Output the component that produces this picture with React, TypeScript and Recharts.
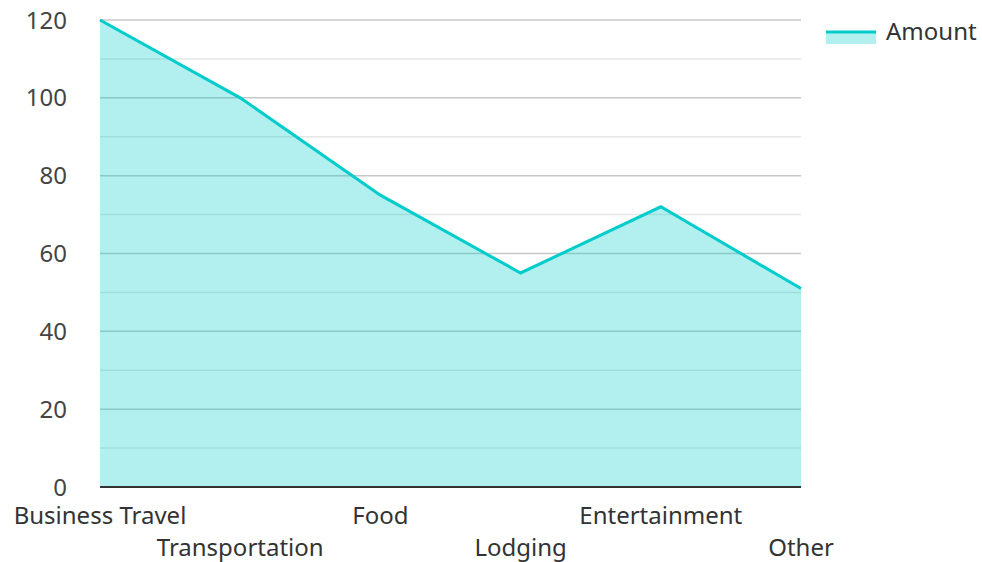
import React from 'react';
import { AreaChart, Area, XAxis, YAxis, CartesianGrid } from 'recharts';

const categories = ['Business Travel', 'Transportation', 'Food', 'Lodging', 'Entertainment', 'Other'];
const amounts = [120, 100, 75, 55, 72, 51];
const yTicks = [0, 20, 40, 60, 80, 100, 120];
const minorTicks = [10, 30, 50, 70, 90, 110];

const data = categories.map((name, i) => ({ name, amount: amounts[i] }));

const FONT = '"Noto Sans", sans-serif';
const LINE = '#00cccc';

// alternate the category labels on two rows so they don't collide
const XTick = (props: any) => {
  const { x, y, payload, index } = props;
  const dy = index % 2 === 1 ? 61 : 29;
  return (
    <text x={x} y={y} dy={dy} textAnchor="middle" fill="#333" fontSize={24} fontFamily={FONT}>
      {payload.value}
    </text>
  );
};

const App: React.FC = () => {
  return (
    <div style={{ position: 'absolute', left: 0, top: 0, width: 982, height: 562, background: '#fff' }}>
      <AreaChart width={982} height={562} data={data} margin={{ top: 20, right: 181, bottom: 0, left: 0 }}>
        <CartesianGrid vertical={false} horizontalValues={minorTicks} stroke="#e6e6e6" strokeWidth={1.5} />
        <CartesianGrid vertical={false} horizontalValues={yTicks} stroke="#c8c8c8" strokeWidth={1.5} />
        <XAxis
          dataKey="name"
          height={75}
          tick={<XTick />}
          tickLine={false}
          axisLine={{ stroke: '#333', strokeWidth: 2 }}
          interval={0}
        />
        <YAxis
          width={100}
          domain={[0, 120]}
          ticks={yTicks}
          axisLine={false}
          tickLine={false}
          tickMargin={27}
          tick={{ fill: '#444', fontSize: 24, fontFamily: FONT }}
        />
        <Area
          type="linear"
          dataKey="amount"
          name="Amount"
          stroke={LINE}
          strokeWidth={3}
          fill={LINE}
          fillOpacity={0.3}
          dot={false}
          activeDot={false}
          isAnimationActive={false}
        />
      </AreaChart>
      <div style={{ position: 'absolute', left: 826, top: 14, display: 'flex', alignItems: 'center', fontFamily: FONT, fontSize: 24, color: '#333' }}>
        <svg width={50} height={16} style={{ marginRight: 10, marginTop: 12 }}>
          <rect x={0} y={3} width={50} height={12} fill={LINE} fillOpacity={0.3} />
          <line x1={0} y1={3} x2={50} y2={3} stroke={LINE} strokeWidth={3} />
        </svg>
        <span>Amount</span>
      </div>
    </div>
  );
};

export default App;
